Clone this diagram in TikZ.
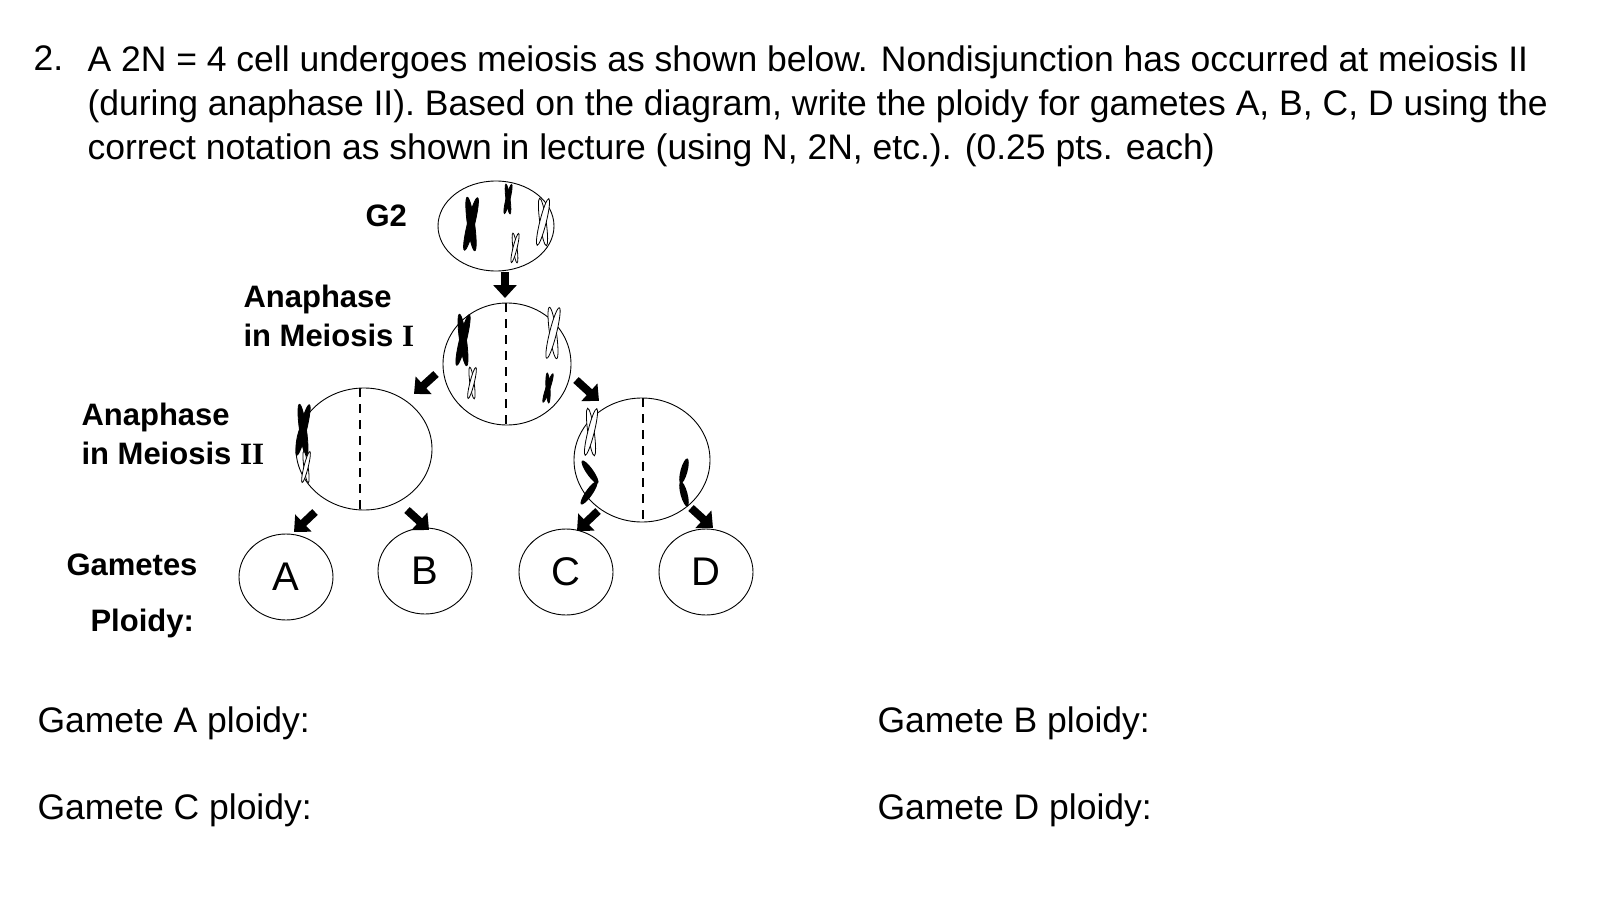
\documentclass[tikz,border=0pt]{standalone}
\usepackage{fontspec}
\setmainfont{Liberation Sans}
\newfontfamily\serifI{Liberation Serif}
\usetikzlibrary{arrows.meta,shapes.geometric}
\newcommand\chrX[5]{% x,y,len,fill,tilt
 \begin{scope}[shift={(#1,#2)}]
 \fill[#4,draw=black,line width=0.8pt,rotate=#5+11] (0,0) ellipse ({#3/15} and {#3/2});
 \fill[#4,draw=black,line width=0.8pt,rotate=#5-11] (0,0) ellipse ({#3/15} and {#3/2});
 \end{scope}}
\begin{document}
\begin{tikzpicture}[x=1pt,y=-1pt,
 cell/.style={draw,line width=0.9pt},
 div/.style={line width=2.5pt,dash pattern=on 9pt off 7pt},
 barr/.style={line width=8pt,-{Triangle[width=23pt,length=13pt]}},
 lab/.style={font=\fontsize{31}{39}\selectfont\bfseries,anchor=west,align=left},
 txt/.style={font=\fontsize{35.5}{44}\selectfont,anchor=west,align=left},
 gam/.style={draw,line width=0.9pt,ellipse,minimum width=94pt,minimum height=86pt,font=\fontsize{40}{40}\selectfont}]
\useasboundingbox (0,0) rectangle (1614,912);
\fill[white] (0,0) rectangle (1614,912);
\node[txt,anchor=north west] at (30,42) {2.};
\node[txt,anchor=north west] (title) at (84,42) {A 2N = 4 cell undergoes meiosis as shown below. Nondisjunction has occurred at meiosis II\\(during anaphase II). Based on the diagram, write the ploidy for gametes A, B, C, D using the\\correct notation as shown in lecture (using N, 2N, etc.). (0.25 pts. each)};
% cells
\draw[cell] (496,226) ellipse (58 and 45);
\draw[cell] (507,364) ellipse (64 and 61);
\draw[div] (506,303) -- (506,425);
\draw[cell] (364,449) ellipse (68 and 61);
\draw[div] (360,388) -- (360,510);
\draw[cell] (642,460) ellipse (68 and 62);
\draw[div] (643,398) -- (643,522);
% chromosomes G2
\chrX{471}{224}{54}{black}{-3}
\chrX{508}{199}{30}{black}{-3}
\chrX{515}{248}{30}{white}{-3}
\chrX{543}{222}{48}{white}{-3}
% MI
\chrX{463}{340}{52}{black}{-3}
\chrX{472}{383}{32}{white}{-3}
\chrX{553}{333}{52}{white}{-3}
\chrX{548}{388}{30}{black}{-8}
% left MII
\chrX{303}{430}{52}{black}{-3}
\chrX{306}{467}{32}{white}{-3}
% right MII
\chrX{591}{432}{48}{white}{-3}
\fill[rotate around={-55:(590,472)}] (590,472) ellipse (14 and 3.5);
\fill[rotate around={55:(589,493)}] (589,493) ellipse (14 and 3.5);
\fill[rotate around={75:(684,471)}] (684,471) ellipse (13 and 3.5);
\fill[rotate around={-75:(684,494)}] (684,494) ellipse (13 and 3.5);
% arrows
\draw[barr] (505,272) -- (505,298);
\draw[barr] (436,374) -- (414,394);
\draw[barr] (576,380) -- (599,401);
\draw[barr] (315,512) -- (294,532);
\draw[barr] (407,510) -- (429,530);
\draw[barr] (598,511) -- (577,531);
\draw[barr] (691,508) -- (713,528);
% labels
\node[lab] at (362,216) {G2};
\node[lab] (l1) at (240,316) {Anaphase\\in Meiosis {\serifI I}};
\node[lab] (l2) at (78,434) {Anaphase\\in Meiosis {\serifI II}};
\node[lab] at (63,565) {Gametes};
\node[lab] at (87,623) {Ploidy:};
% gametes
\node[gam] (A) at (286,577) {A};
\node[gam] (B) at (425,571) {B};
\node[gam] (C) at (566,572) {C};
\node[gam] (D) at (706,572) {D};
\node[txt] at (34,723) {Gamete A ploidy:};
\node[txt] at (874,723) {Gamete B ploidy:};
\node[txt] at (34,810) {Gamete C ploidy:};
\node[txt] at (874,810) {Gamete D ploidy:};
\end{tikzpicture}
\end{document}
